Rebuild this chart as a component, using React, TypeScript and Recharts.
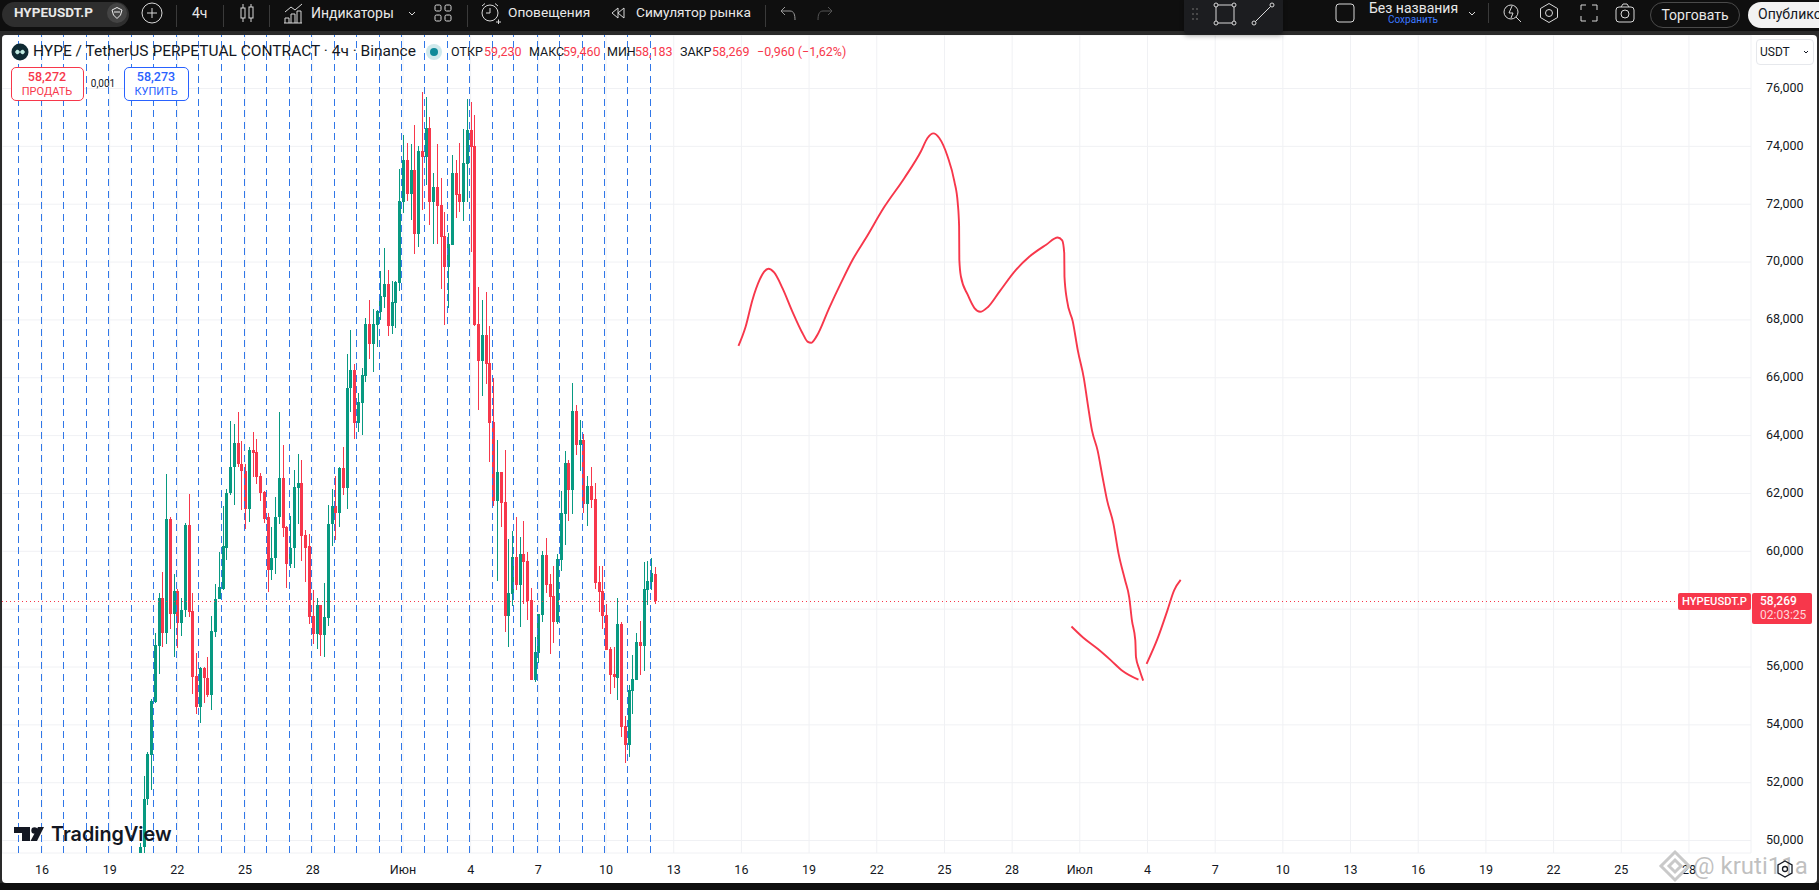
import React from 'react';
import { ComposedChart, Bar, Line, XAxis, YAxis, CartesianGrid, ReferenceLine } from 'recharts';

// all prices are in thousands, the way the screen shows them ("58,269")
const candleOpen = [
  49.57, 49.78, 51.45, 52.95, 54.79, 56.73, 58.37, 57.18, 61.13, 57.85,
  58.62, 57.53, 57.96, 60.9, 57.93, 55.68, 54.62, 55.98, 55.63, 55.02,
  57.21, 58.34, 58.71, 60.13, 62.0, 62.9, 63.75, 63.03, 62.78, 61.48,
  63.5, 63.43, 62.6, 62.05, 61.17, 59.35, 59.76, 61.17, 62.52, 60.84,
  59.55, 60.11, 62.2, 62.37, 60.56, 60.18, 57.76, 57.13, 58.14, 57.1,
  57.7, 60.94, 61.56, 61.31, 62.87, 62.2, 65.66, 66.26, 64.44, 65.13,
  66.05, 67.85, 67.16, 67.82, 68.28, 68.79, 69.24, 67.78, 68.58, 69.28,
  72.07, 73.52, 72.35, 73.18, 70.96, 73.83, 73.63, 74.63, 72.07, 72.59,
  71.97, 70.9, 69.82, 70.58, 73.07, 72.35, 72.07, 73.38, 74.56, 74.01,
  67.85, 66.57, 67.47, 66.5, 64.46, 61.73, 62.74, 61.7, 57.76, 58.52,
  59.8, 58.83, 59.9, 59.66, 58.31, 55.54, 56.48, 57.79, 59.86, 58.86,
  58.45, 57.55, 59.69, 61.28, 63.05, 62.11, 64.84, 63.67, 63.84, 61.63,
  62.25, 61.8, 58.93, 58.62, 57.79, 56.61, 55.75, 55.61, 57.48, 53.95,
  53.3, 55.16, 55.54, 56.86, 56.72, 58.65, 58.93, 59.23,
];
const candleHigh = [
  49.9, 52.22, 53.06, 54.89, 57.19, 58.57, 59.29, 62.67, 61.17, 59.23,
  58.69, 58.37, 60.98, 61.97, 58.57, 56.49, 56.0, 56.0, 56.35, 57.76,
  58.86, 59.96, 61.56, 62.17, 64.5, 64.4, 64.82, 63.81, 63.03, 63.61,
  64.13, 63.88, 62.71, 62.09, 61.33, 60.84, 61.88, 64.82, 63.67, 60.87,
  61.21, 62.8, 63.36, 63.15, 60.73, 60.59, 58.65, 58.37, 58.14, 58.89,
  61.59, 62.14, 62.6, 62.92, 63.61, 66.82, 67.65, 66.49, 65.46, 66.35,
  68.08, 68.68, 68.36, 68.34, 69.69, 70.48, 69.72, 69.34, 69.34, 73.21,
  74.39, 74.11, 74.08, 74.73, 74.01, 75.87, 75.7, 75.01, 73.07, 74.08,
  72.9, 71.73, 71.0, 73.7, 73.52, 74.11, 74.6, 75.63, 75.53, 75.08,
  69.13, 68.68, 68.96, 67.78, 65.99, 63.84, 62.74, 63.5, 60.42, 60.69,
  61.18, 60.49, 61.04, 59.97, 58.72, 57.03, 57.83, 60.0, 60.45, 59.21,
  59.48, 59.9, 62.08, 63.46, 63.15, 65.81, 65.05, 64.53, 64.05, 62.6,
  62.91, 62.35, 59.48, 59.48, 58.17, 56.68, 56.68, 58.38, 57.55, 54.3,
  55.37, 56.41, 57.17, 57.58, 59.62, 59.66, 59.76, 59.46,
];
const candleLow = [
  49.57, 49.57, 51.22, 51.74, 54.74, 55.77, 56.7, 56.81, 57.33, 56.33,
  56.66, 57.06, 57.73, 57.73, 55.08, 54.39, 54.07, 54.74, 54.97, 54.51,
  57.04, 58.63, 58.65, 59.69, 61.94, 61.59, 62.92, 61.42, 60.76, 61.02,
  62.57, 62.32, 61.74, 60.99, 58.6, 59.0, 59.21, 60.96, 60.5, 58.72,
  59.42, 59.44, 60.96, 59.67, 58.94, 57.48, 56.81, 56.64, 56.37, 56.33,
  57.42, 60.18, 60.38, 60.84, 61.94, 61.46, 64.82, 63.89, 64.13, 64.01,
  65.86, 66.65, 66.19, 67.07, 67.99, 68.41, 67.44, 67.51, 67.71, 69.0,
  71.69, 72.11, 71.45, 70.27, 70.52, 71.79, 72.66, 71.28, 70.62, 70.62,
  69.06, 67.82, 68.41, 70.58, 71.52, 71.73, 71.41, 72.07, 70.34, 67.78,
  64.88, 65.36, 65.78, 63.08, 61.56, 58.97, 60.83, 57.2, 56.68, 58.1,
  58.65, 57.38, 58.17, 57.62, 55.54, 55.47, 56.13, 57.55, 58.55, 56.44,
  56.82, 57.48, 59.31, 60.21, 61.04, 61.28, 63.32, 62.77, 61.32, 60.87,
  61.49, 58.69, 57.89, 57.31, 56.58, 55.06, 55.27, 54.85, 53.57, 52.67,
  52.88, 54.37, 55.54, 55.72, 55.85, 58.14, 58.65, 58.18,
];
const candleClose = [
  49.78, 51.45, 52.98, 54.83, 56.75, 58.37, 57.18, 61.13, 57.85, 58.62,
  57.53, 57.96, 60.9, 57.91, 55.66, 54.62, 55.98, 55.62, 55.02, 57.23,
  58.34, 58.75, 60.18, 62.0, 62.9, 63.75, 63.03, 62.78, 61.48, 63.5,
  63.4, 62.57, 62.02, 61.1, 59.37, 59.78, 61.17, 62.52, 60.81, 59.55,
  60.13, 62.23, 62.37, 60.52, 60.13, 57.73, 57.13, 58.14, 57.1, 57.73,
  60.96, 61.56, 61.33, 62.88, 62.2, 65.66, 66.26, 64.44, 65.16, 66.09,
  67.85, 67.16, 67.85, 68.3, 68.82, 69.24, 67.78, 68.61, 69.3, 72.11,
  73.52, 72.35, 73.18, 70.96, 73.83, 73.63, 74.63, 72.07, 72.59, 71.93,
  70.86, 69.82, 70.62, 73.07, 72.31, 72.07, 73.42, 74.56, 73.97, 67.82,
  66.57, 67.47, 66.47, 64.43, 61.73, 62.74, 61.66, 57.76, 58.55, 59.8,
  58.83, 59.9, 59.62, 58.27, 55.54, 56.51, 57.83, 59.86, 58.83, 58.41,
  57.55, 59.73, 61.32, 63.05, 62.11, 64.84, 63.67, 63.84, 61.63, 62.25,
  61.77, 58.9, 58.59, 57.76, 56.58, 55.72, 55.65, 57.48, 53.92, 53.3,
  55.2, 55.58, 56.86, 56.72, 58.69, 58.97, 59.24, 58.27,
];

// x axis is counted in days from 16 May
const firstBarDay = 4.357;
const dayTicks = [0, 3, 6, 9, 12, 16, 19, 22, 25, 28, 31, 34, 37, 40, 43, 46, 49, 52, 55, 58, 61, 64, 67, 70, 73];
const dayLabels = ['16', '19', '22', '25', '28', 'Июн', '4', '7', '10', '13', '16', '19', '22', '25', '28', 'Июл', '4', '7', '10', '13', '16', '19', '22', '25', '28'];
const priceTicks = [50, 52, 54, 56, 58, 60, 62, 64, 66, 68, 70, 72, 74, 76];
const lastPrice = 58.269;

// hand placed daily lines on the chart
const dailyLines = [
  -1.05, -0.01, 0.94, 1.96, 2.94, 3.96, 4.93, 5.97, 6.93, 7.95, 8.97, 9.94, 10.96, 11.95, 12.96,
  13.93, 14.95, 15.93, 16.95, 17.96, 18.94, 19.96, 20.92, 21.95, 22.92, 23.95, 24.94, 25.94, 26.96,
];

// the brush forecast, [day, price]
const forecastStroke = [
  [30.87, 67.1], [31.19, 67.77], [31.49, 68.69], [31.81, 69.39], [32.01, 69.67], [32.2, 69.77], [32.45, 69.64],
  [32.82, 69.1], [33.26, 68.29], [33.71, 67.54], [33.93, 67.25], [34.09, 67.21], [34.33, 67.43], [34.89, 68.41],
  [35.41, 69.27], [35.93, 70.08], [36.52, 70.83], [37.33, 71.9], [38.22, 72.9], [38.96, 73.83], [39.25, 74.29],
  [39.51, 74.45], [39.77, 74.29], [40.14, 73.65], [40.44, 72.79], [40.59, 72.04], [40.65, 71.23], [40.66, 70.08],
  [40.73, 69.5], [41.03, 68.87], [41.33, 68.41], [41.58, 68.28], [41.92, 68.44], [42.44, 68.98], [43.17, 69.73],
  [43.77, 70.19], [44.51, 70.6], [45.02, 70.85], [45.22, 70.75], [45.31, 70.31], [45.32, 69.5], [45.43, 68.69],
  [45.69, 67.94], [45.92, 66.91], [46.18, 65.98], [46.35, 65.1], [46.54, 64.18], [46.79, 63.48], [47.01, 62.56],
  [47.21, 61.76], [47.49, 60.95], [47.72, 59.91], [48.01, 58.99], [48.19, 58.41], [48.31, 57.61], [48.46, 56.92],
  [48.49, 56.34], [48.63, 55.94], [48.81, 55.53],
];
const arrowLeftStroke = [[45.63, 57.4], [46.13, 57.03], [46.79, 56.63], [47.38, 56.23], [47.9, 55.86], [48.6, 55.56]];
const arrowRightStroke = [[48.96, 56.11], [49.44, 56.97], [49.88, 57.95], [50.18, 58.65], [50.47, 59.01]];

const GREEN = '#089981';
const RED = '#f7374b';
const BLUE = '#2962ff';
const UI = 'Roboto, sans-serif';

const candles = candleOpen.map((open, i) => ({
  day: firstBarDay + i / 6,
  open,
  close: candleClose[i],
  high: candleHigh[i],
  low: candleLow[i],
  range: [candleLow[i], candleHigh[i]],
}));

const toPoints = (stroke: number[][]) => stroke.map(([day, price]) => ({ day, price }));

const formatPrice = (v: number) => v.toFixed(3).replace('.', ',');

const CandleShape = (props: any) => {
  const { x, y, width, height, payload } = props;
  const { open, close, high, low } = payload;
  const perUnit = height / (high - low);
  const top = y + (high - Math.max(open, close)) * perUnit;
  const bodyHeight = Math.max(Math.abs(open - close) * perUnit, 1);
  const color = close >= open ? GREEN : RED;
  // snap to whole pixels so the wick stays one crisp column
  const cx = Math.round(x + width / 2 - 0.5);
  return (
    <g shapeRendering="crispEdges">
      <rect x={cx} y={y} width={1} height={height} fill={color} />
      <rect x={cx - 1} y={top} width={3} height={bodyHeight} fill={color} />
    </g>
  );
};

const Label = ({ x, y, children, style }: { x: number; y: number; children: React.ReactNode; style?: React.CSSProperties }) => (
  <div
    style={{
      position: 'absolute',
      left: x,
      top: y,
      transform: 'translateY(-50%)',
      whiteSpace: 'nowrap',
      fontFamily: UI,
      lineHeight: 1,
      ...style,
    }}
  >
    {children}
  </div>
);

const Icon = ({ x, y, w = 22, h = 22, color = '#d8d8d8', children }: any) => (
  <svg
    width={w}
    height={h}
    viewBox={`0 0 ${w} ${h}`}
    style={{ position: 'absolute', left: x - w / 2, top: y - h / 2 }}
    fill="none"
    stroke={color}
    strokeWidth={1}
  >
    {children}
  </svg>
);

const Divider = ({ x }: { x: number }) => (
  <div style={{ position: 'absolute', left: x, top: 5, width: 1, height: 22, background: '#3a3a3a' }} />
);

const TopBar = () => (
  <>
    <div style={{ position: 'absolute', left: 0, top: 0, width: 1819, height: 31, background: '#0f0f0f' }} />
    <div style={{ position: 'absolute', left: 2, top: 2, width: 127, height: 25, borderRadius: 13, background: '#2e2e2e' }} />
    <Label x={14} y={13} style={{ color: '#e8e8e8', fontSize: 13.5, fontWeight: 700 }}>HYPEUSDT.P</Label>
    <Icon x={117} y={13}>
      <circle cx={11} cy={11} r={10} fill="#444" stroke="none" />
      <path d="M6 8 L11 5.5 L16 8 L14.5 13 L11 16.5 L7.5 13 Z M8 10 H14" stroke="#eee" />
    </Icon>
    <Icon x={152} y={13}>
      <circle cx={11} cy={11} r={10} />
      <path d="M11 6 V16 M6 11 H16" />
    </Icon>
    <Divider x={176} />
    <Label x={192} y={13} style={{ color: '#e8e8e8', fontSize: 14 }}>4ч</Label>
    <Divider x={223} />
    <Icon x={247} y={13}>
      <path d="M7 2 V20 M15 2 V20" />
      <rect x={5} y={6} width={4} height={10} fill="#0f0f0f" />
      <rect x={13} y={5} width={4} height={11} fill="#0f0f0f" />
    </Icon>
    <Divider x={269} />
    <Icon x={293} y={13}>
      <path d="M3 10 L9 5 L13 8 L20 2 M3 21 V16 H7 V21 M9 21 V12 H13 V21 M15 21 V9 H19 V21 M2 21 H20" />
    </Icon>
    <Label x={311} y={13} style={{ color: '#e8e8e8', fontSize: 14 }}>Индикаторы</Label>
    <Icon x={412} y={13}>
      <path d="M8 10 L11 13 L14 10" />
    </Icon>
    <Icon x={443} y={13}>
      <rect x={3} y={3} width={6} height={6} rx={1.5} />
      <rect x={13} y={3} width={6} height={6} rx={1.5} />
      <rect x={3} y={13} width={6} height={6} rx={1.5} />
      <rect x={13} y={13} width={6} height={6} rx={1.5} />
    </Icon>
    <Divider x={467} />
    <Icon x={490} y={13}>
      <circle cx={11} cy={11} r={8} />
      <path d="M11 6 V11 H7 M3 4 L6 1.5 M19 4 L16 1.5 M17 20 H22 M19.5 17.5 V22" />
    </Icon>
    <Label x={508} y={13} style={{ color: '#e8e8e8', fontSize: 13.7 }}>Оповещения</Label>
    <Icon x={618} y={13}>
      <path d="M11 6 L5 11 L11 16 Z M17 6 L11 11 L17 16 Z" />
    </Icon>
    <Label x={636} y={13} style={{ color: '#e8e8e8', fontSize: 13.7 }}>Симулятор рынка</Label>
    <Divider x={765} />
    <Icon x={788} y={13} color="#9a9a9a">
      <path d="M8 5 L4 9 L8 13 M4 9 H13 C17 9 18 13 18 18" />
    </Icon>
    <Icon x={825} y={13} color="#555">
      <path d="M14 5 L18 9 L14 13 M18 9 H9 C5 9 4 13 4 18" />
    </Icon>

    <div
      style={{
        position: 'absolute',
        left: 1184,
        top: 0,
        width: 99,
        height: 34,
        background: '#1c1d20',
        borderRadius: '0 0 4px 4px',
        boxShadow: '0 2px 5px rgba(0,0,0,0.3)',
        zIndex: 3,
      }}
    >
      <Icon x={11} y={14} color="#555">
        <path d="M9 5 V7 M13 5 V7 M9 10 V12 M13 10 V12 M9 15 V17 M13 15 V17" strokeWidth={1.5} />
      </Icon>
      <Icon x={41} y={14} w={26} h={26}>
        <rect x={4} y={4} width={18} height={18} />
        <circle cx={4} cy={4} r={2} fill="#1c1d20" />
        <circle cx={22} cy={4} r={2} fill="#1c1d20" />
        <circle cx={4} cy={22} r={2} fill="#1c1d20" />
        <circle cx={22} cy={22} r={2} fill="#1c1d20" />
      </Icon>
      <Icon x={79} y={14} w={26} h={26}>
        <path d="M5 21 L21 5" />
        <circle cx={4} cy={22} r={2} fill="#1c1d20" />
        <circle cx={22} cy={4} r={2} fill="#1c1d20" />
      </Icon>
    </div>

    <Icon x={1345} y={13}>
      <rect x={2} y={2} width={18} height={18} rx={3} />
    </Icon>
    <Label x={1369} y={8} style={{ color: '#e8e8e8', fontSize: 14 }}>Без названия</Label>
    <Label x={1388} y={20} style={{ color: '#3b78ff', fontSize: 10 }}>Сохранить</Label>
    <Icon x={1472} y={13}>
      <path d="M8 10 L11 13 L14 10" />
    </Icon>
    <div style={{ position: 'absolute', left: 1488, top: 3, width: 1, height: 20, background: '#3a3a3a' }} />
    <Icon x={1512} y={13}>
      <circle cx={10} cy={10} r={7} />
      <path d="M15 15 L20 20 M11 4 L8 11 H12 L10 16" />
    </Icon>
    <Icon x={1549} y={13}>
      <path d="M11 1.5 L19.5 6.5 V15.5 L11 20.5 L2.5 15.5 V6.5 Z" />
      <circle cx={11} cy={11} r={3.5} />
    </Icon>
    <Icon x={1589} y={13}>
      <path d="M3 8 V3 H8 M14 3 H19 V8 M19 14 V19 H14 M8 19 H3 V14" />
    </Icon>
    <Icon x={1625} y={13}>
      <rect x={2} y={5} width={18} height={15} rx={3} />
      <circle cx={11} cy={12} r={4} />
      <path d="M7 5 L9 2 H13 L15 5" />
    </Icon>
    <div
      style={{
        position: 'absolute',
        left: 1650,
        top: 2,
        width: 88,
        height: 24,
        border: '1px solid #4a4a4a',
        borderRadius: 13,
        color: '#e8e8e8',
        fontFamily: UI,
        fontSize: 14,
        lineHeight: '24px',
        textAlign: 'center',
      }}
    >
      Торговать
    </div>
    <div
      style={{
        position: 'absolute',
        left: 1748,
        top: 2,
        width: 71,
        height: 26,
        borderRadius: '13px 0 0 13px',
        background: '#f2f2f2',
        color: '#131722',
        fontFamily: UI,
        fontSize: 14,
        lineHeight: '25px',
        paddingLeft: 10,
        boxSizing: 'border-box',
        overflow: 'hidden',
        whiteSpace: 'nowrap',
      }}
    >
      Опубликовать
    </div>
  </>
);

const Legend = () => (
  <>
    <svg width={18} height={18} style={{ position: 'absolute', left: 11, top: 43 }}>
      <circle cx={9} cy={9} r={8.5} fill="#0f2a33" />
      <path d="M4 9 C6 5 8 7 9 9 C10 11 12 13 14 9 C12 5 10 7 9 9 C8 11 6 13 4 9 Z" fill="#bfe9e0" />
    </svg>
    <Label x={33} y={52} style={{ color: '#131722', fontSize: 15.5 }}>
      HYPE / TetherUS PERPETUAL CONTRACT · 4ч · Binance
    </Label>
    <svg width={18} height={18} style={{ position: 'absolute', left: 425, top: 43 }}>
      <circle cx={9} cy={9} r={8} fill="#cfe9ec" />
      <circle cx={9} cy={9} r={4} fill="#0f8a99" />
    </svg>
    <Label x={451} y={52} style={{ color: '#131722', fontSize: 12.5 }}>ОТКР</Label>
    <Label x={484} y={52} style={{ color: RED, fontSize: 12.5 }}>59,230</Label>
    <Label x={529} y={52} style={{ color: '#131722', fontSize: 12.5 }}>МАКС</Label>
    <Label x={563} y={52} style={{ color: RED, fontSize: 12.5 }}>59,460</Label>
    <Label x={607} y={52} style={{ color: '#131722', fontSize: 12.5 }}>МИН</Label>
    <Label x={635} y={52} style={{ color: RED, fontSize: 12.5 }}>58,183</Label>
    <Label x={680} y={52} style={{ color: '#131722', fontSize: 12.5 }}>ЗАКР</Label>
    <Label x={712} y={52} style={{ color: RED, fontSize: 12.5 }}>58,269</Label>
    <Label x={757} y={52} style={{ color: RED, fontSize: 12.5 }}>−0,960 (−1,62%)</Label>

    <div style={{ position: 'absolute', left: 11, top: 67, width: 71, height: 32, border: `1px solid ${RED}`, borderRadius: 5, background: '#fff' }} />
    <Label x={47} y={77} style={{ color: RED, fontSize: 12.5, fontWeight: 500, transform: 'translate(-50%,-50%)' }}>58,272</Label>
    <Label x={47} y={91} style={{ color: RED, fontSize: 11, transform: 'translate(-50%,-50%)' }}>ПРОДАТЬ</Label>
    <Label x={103} y={84} style={{ color: '#131722', fontSize: 10, transform: 'translate(-50%,-50%)' }}>0,001</Label>
    <div style={{ position: 'absolute', left: 124, top: 67, width: 63, height: 32, border: `1px solid ${BLUE}`, borderRadius: 5, background: '#fff' }} />
    <Label x={156} y={77} style={{ color: BLUE, fontSize: 12.5, fontWeight: 500, transform: 'translate(-50%,-50%)' }}>58,273</Label>
    <Label x={156} y={91} style={{ color: BLUE, fontSize: 11, transform: 'translate(-50%,-50%)' }}>КУПИТЬ</Label>

    <div style={{ position: 'absolute', left: 1756, top: 39, width: 56, height: 24, border: '1px solid #e6e8ec', borderRadius: 4, background: '#fff' }} />
    <Label x={1760} y={52} style={{ color: '#131722', fontSize: 12 }}>USDT</Label>
    <Icon x={1806} y={52} color="#131722">
      <path d="M9 10 L11 12 L13 10" />
    </Icon>
  </>
);

const PriceTags = () => (
  <>
    <div style={{ position: 'absolute', left: 1678, top: 593, width: 73, height: 17, background: RED, borderRadius: 2 }} />
    <Label x={1682} y={602} style={{ color: '#fff', fontSize: 11.2, fontWeight: 500 }}>HYPEUSDT.P</Label>
    <div style={{ position: 'absolute', left: 1752, top: 593, width: 60, height: 31, background: RED, borderRadius: 2 }} />
    <Label x={1760} y={601} style={{ color: '#fff', fontSize: 12, fontWeight: 500 }}>58,269</Label>
    <Label x={1760} y={615} style={{ color: '#ffd5d9', fontSize: 12 }}>02:03:25</Label>
  </>
);

const Branding = () => (
  <>
    <svg width={30} height={16} style={{ position: 'absolute', left: 14, top: 826 }}>
      <path d="M0 1 H16 V15 H8 V7 H0 Z" fill="#131722" />
      <circle cx={20.5} cy={4.5} r={3.2} fill="#131722" />
      <path d="M24 1 H30 L23 15 H16.5 Z" fill="#131722" />
    </svg>
    <Label x={51} y={835} style={{ fontFamily: 'Inter, sans-serif', color: '#131722', fontSize: 19.8, fontWeight: 600 }}>TradingView</Label>
    <svg width={34} height={34} style={{ position: 'absolute', left: 1658, top: 849 }} fill="none" stroke="#c9c9c9" strokeWidth={3}>
      <path d="M17 3 L31 17 L17 31 L3 17 Z M17 11 L23 17 L17 23 L11 17 Z" />
    </svg>
    <Label x={1693} y={866} style={{ color: 'rgba(150,150,150,0.6)', fontSize: 24 }}>@ kruti11a</Label>
    <Icon x={1785} y={869} color="#131722">
      <path d="M11 3 L18 7 V15 L11 19 L4 15 V7 Z" strokeWidth={1.3} />
      <circle cx={11} cy={11} r={2.5} strokeWidth={1.3} />
    </Icon>
  </>
);

export default function App() {
  return (
    <div style={{ position: 'fixed', left: 0, top: 0, width: 1819, height: 890, background: '#2a2a2a', overflow: 'hidden' }}>
      <div style={{ position: 'absolute', left: 0, top: 883, width: 1819, height: 7, background: '#0f0f0f' }} />
      <div style={{ position: 'absolute', left: 2, top: 35, width: 1815, height: 848, background: '#fff', borderRadius: 4, overflow: 'hidden' }}>
        <ComposedChart
          width={1815}
          height={848}
          data={candles}
          margin={{ top: 0, right: 0, bottom: 0, left: 0 }}
        >
          <CartesianGrid stroke="#f0f1f4" strokeWidth={1} />
          <XAxis
            dataKey="day"
            type="number"
            domain={[-1.773, 75.75]}
            allowDataOverflow
            ticks={dayTicks}
            interval={0}
            height={30}
            axisLine={false}
            tickLine={false}
            tickMargin={6}
            tick={{ fill: '#131722', fontSize: 12.5, fontFamily: UI }}
            tickFormatter={(v: number) => dayLabels[dayTicks.indexOf(v)]}
          />
          <YAxis
            orientation="right"
            type="number"
            domain={[49.57, 77.85]}
            allowDataOverflow
            ticks={priceTicks}
            interval={0}
            width={66}
            axisLine={false}
            tickLine={false}
            tickMargin={9}
            tick={{ fill: '#131722', fontSize: 12.5, fontFamily: UI, dy: -1 }}
            tickFormatter={formatPrice}
          />
          {dailyLines.map((day) => (
            <ReferenceLine key={day} x={day} stroke="#3077e8" strokeWidth={1} strokeDasharray="7 4.5" shapeRendering="crispEdges" />
          ))}
          <ReferenceLine y={lastPrice} stroke={RED} strokeWidth={1} strokeDasharray="1 3" shapeRendering="crispEdges" />
          <Bar dataKey="range" barSize={3} isAnimationActive={false} shape={CandleShape} />
          <Line data={toPoints(forecastStroke)} dataKey="price" type="monotone" stroke={RED} strokeWidth={1.9} dot={false} isAnimationActive={false} />
          <Line data={toPoints(arrowLeftStroke)} dataKey="price" type="monotone" stroke={RED} strokeWidth={1.9} dot={false} isAnimationActive={false} />
          <Line data={toPoints(arrowRightStroke)} dataKey="price" type="monotone" stroke={RED} strokeWidth={1.9} dot={false} isAnimationActive={false} />
        </ComposedChart>
      </div>
      <TopBar />
      <Legend />
      <PriceTags />
      <Branding />
    </div>
  );
}
